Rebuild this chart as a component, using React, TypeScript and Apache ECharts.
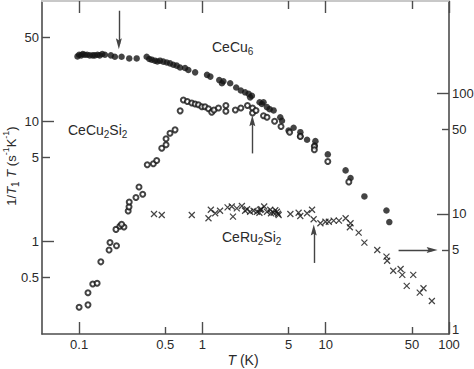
import React, { useEffect, useRef } from 'react';
import * as echarts from 'echarts';

// ---------- data ----------
const ceCu6T = [0.097, 0.1, 0.104, 0.107, 0.111, 0.116, 0.122, 0.129, 0.134, 0.141, 0.147, 0.154, 0.162, 0.181, 0.195, 0.221, 0.255, 0.293, 0.353, 0.371, 0.388, 0.412, 0.431, 0.453, 0.482, 0.514, 0.546, 0.581, 0.619, 0.659, 0.723, 0.769, 0.873, 1.09, 1.16, 1.37, 1.44, 1.48, 1.68, 1.88, 2.05, 2.22, 2.37, 2.44, 2.52, 2.91, 3.04, 3.13, 3.34, 3.51, 3.78, 4.28, 4.42, 5.0, 5.49, 6.23, 6.23, 7.06, 8.25, 8.14, 10.4, 14.5, 15.9, 20.6, 31.1, 32.8];
const ceCu6Rate = [34.6, 35.7, 35.3, 36.2, 35.7, 35.7, 35.3, 35.3, 35.3, 35.7, 35.3, 36.2, 35.7, 35.3, 34.4, 34.4, 33.3, 33.3, 34.4, 32.9, 32.5, 31.9, 31.4, 31.9, 31.3, 30.8, 30.3, 29.5, 29.0, 28.0, 27.7, 26.7, 25.5, 24.3, 23.5, 22.0, 20.7, 21.5, 20.7, 19.1, 18.0, 17.4, 16.9, 15.8, 16.3, 14.4, 13.9, 14.4, 13.1, 12.6, 12.3, 10.8, 10.1, 8.37, 8.82, 8.11, 7.51, 7.01, 6.83, 6.29, 5.3, 3.9, 3.37, 2.37, 1.81, 1.45];

const ceCu2Si2T = [0.1, 0.118, 0.118, 0.129, 0.14, 0.15, 0.175, 0.178, 0.201, 0.199, 0.214, 0.231, 0.221, 0.25, 0.254, 0.255, 0.289, 0.328, 0.306, 0.357, 0.4, 0.426, 0.468, 0.507, 0.507, 0.546, 0.6, 0.66, 0.701, 0.755, 0.82, 0.873, 0.928, 0.989, 1.05, 1.12, 1.19, 1.24, 1.35, 1.55, 1.55, 1.85, 2.05, 2.32, 2.55, 2.55, 2.72, 3.13, 3.34, 3.85, 4.34, 5.1, 6.22, 8.09, 8.09, 10.4, 15.4];
const ceCu2Si2Rate = [0.284, 0.297, 0.375, 0.443, 0.449, 0.677, 0.848, 0.981, 0.92, 1.26, 1.34, 1.32, 1.39, 1.79, 1.94, 2.13, 2.32, 2.47, 2.84, 4.35, 4.43, 4.72, 5.97, 6.37, 7.14, 7.95, 8.48, 12.2, 15.0, 14.6, 14.2, 13.9, 13.7, 13.2, 13.2, 12.7, 11.9, 12.4, 12.9, 13.5, 12.1, 12.4, 12.9, 13.5, 12.9, 11.7, 12.3, 11.1, 10.8, 10.0, 9.03, 8.11, 7.47, 6.17, 5.79, 4.63, 3.13];

const ceRu2Si2T = [0.405, 0.468, 0.82, 1.12, 1.17, 1.27, 1.39, 1.6, 1.73, 1.77, 1.9, 2.09, 2.22, 2.3, 2.44, 2.6, 2.77, 2.9, 2.94, 3.0, 3.17, 3.34, 3.55, 3.6, 3.78, 3.9, 4.02, 4.1, 4.15, 5.17, 6.03, 6.22, 7.06, 7.75, 7.98, 9.06, 9.95, 10.6, 11.6, 12.8, 14.5, 15.9, 15.7, 18.5, 20.6, 26.2, 31.1, 31.5, 35.3, 40.5, 41.8, 51.3, 45.4, 57.9, 62.1, 72.6];
const ceRu2Si2Rate = [9.96, 9.77, 9.77, 9.18, 10.8, 10.1, 10.6, 11.3, 11.5, 9.46, 11.1, 11.6, 10.6, 10.9, 10.4, 10.6, 10.4, 10.2, 10.8, 10.9, 11.5, 10.4, 10.8, 10.1, 10.2, 10.7, 10.4, 10.0, 9.77, 9.96, 10.2, 9.59, 10.1, 10.8, 9.0, 8.34, 8.59, 8.59, 8.76, 8.76, 9.18, 8.34, 7.72, 6.96, 5.75, 5.0, 4.4, 4.07, 3.36, 3.47, 3.1, 3.1, 2.51, 2.21, 2.4, 1.88];

// axis ranges and ticks
const xRange = [0.05, 100];
const leftRange = [0.17, 100];
const rightRange = [1, 588.6];
const xMajorTicks = [0.1, 1, 10, 100];
const xMinorTicks = [0.5, 5, 50];
const xTickLabels = [0.1, 0.5, 1, 5, 10, 50, 100];
const leftMajorTicks = [1, 10];
const leftMinorTicks = [0.5, 5, 50];
const leftTickLabels = [0.5, 1, 5, 10, 50];
const rightMajorTicks = [10, 100];
const rightMinorTicks = [5, 50];
const rightTickLabels = [1, 5, 10, 50, 100];

// arrows (data coordinates): [tail, head]
const arrowCeCu6 = [[0.21, 83], [0.21, 44]];
const arrowCeCu2Si2 = [[2.54, 5.4], [2.54, 10.1]];
const arrowCeRu2Si2 = [[8.0, 3.9], [8.0, 7.33]];
const arrowRightAxis = [[39, 5.0], [73, 5.0]];

const FONT = '"Liberation Sans", Arial, Helvetica, sans-serif';
const AXIS = '#4d4d4d';
const TEXT = '#2a2a2a';
const ARROW = '#444';

const lg = (v: number) => Math.log10(v);
const fmt = (v: number) => String(parseFloat(Math.pow(10, v).toPrecision(3)));
const zip = (a: number[], b: number[]) => a.map((v, i) => [v, b[i]]);

function tickAxis(position: string, range: number[], ticks: number[], length: number, opts: any = {}) {
  return {
    type: 'value',
    position,
    min: lg(range[0]),
    max: lg(range[1]),
    axisLine: { show: !!opts.line, onZero: false, lineStyle: { color: opts.lineColor || AXIS, width: opts.lineWidth || 1.6 } },
    axisTick: { show: true, inside: true, length, customValues: ticks.map(lg), lineStyle: { color: AXIS, width: 1.4 } },
    axisLabel: opts.labels
      ? {
          show: true,
          customValues: opts.labels.map(lg),
          formatter: opts.formatter || ((v: number) => fmt(v)),
          rich: opts.rich,
          color: TEXT,
          fontSize: 13,
          fontFamily: FONT,
          margin: opts.margin ?? 4,
        }
      : { show: false },
    splitLine: { show: false },
    silent: true,
  };
}

const richBase = {
  sub: { fontSize: 10, lineHeight: 10, verticalAlign: 'bottom', fontFamily: FONT, fill: TEXT },
  sup: { fontSize: 9, lineHeight: 9, verticalAlign: 'top', fontFamily: FONT, fill: TEXT },
  it: { fontStyle: 'italic', fontSize: 14, lineHeight: 19, fontFamily: FONT, fill: TEXT },
};

function label(text: string, x: number, y: number, extra: any = {}, size = 14) {
  return {
    type: 'text',
    x,
    y,
    silent: true,
    ...extra,
    style: {
      text,
      rich: { ...richBase, it: { ...richBase.it, fontSize: size } },
      fontSize: size,
      lineHeight: 19,
      fontFamily: FONT,
      fill: TEXT,
      align: extra.align || 'left',
      verticalAlign: 'middle',
    },
  };
}

const arrowLine = (pts: number[][]) => [
  { coord: pts[0], symbol: 'none' },
  { coord: pts[1], symbol: 'path://M5,0L10,18L5,15L0,18Z', symbolSize: [6, 11] },
];

export default function App() {
  const ref = useRef<HTMLDivElement>(null);
  useEffect(() => {
    if (!ref.current) return;
    const chart = echarts.init(ref.current, null, { renderer: 'svg' });
    const markLineBase = {
      silent: true,
      animation: false,
      symbol: ['none', 'arrow'],
      symbolSize: 10,
      label: { show: false },
      emphasis: { disabled: true },
      itemStyle: { color: ARROW },
      lineStyle: { color: ARROW, width: 1.4, type: 'solid' },
    };
    chart.setOption({
      animation: false,
      backgroundColor: '#fff',
      textStyle: { fontFamily: FONT },
      grid: { left: 42, right: 25, top: 1, bottom: 35, outerBoundsMode: 'none', containLabel: false },
      xAxis: [
        { type: 'log', min: xRange[0], max: xRange[1], show: false, logBase: 10 },
        tickAxis('bottom', xRange, xMajorTicks, 12, { line: true, labels: xTickLabels, margin: 4 }),
        tickAxis('bottom', xRange, xMinorTicks, 7),
        tickAxis('top', xRange, xMajorTicks, 12, { line: true, lineColor: '#c8c8c8', lineWidth: 2 }),
        tickAxis('top', xRange, xMinorTicks, 8),
      ],
      yAxis: [
        { type: 'log', min: leftRange[0], max: leftRange[1], show: false, logBase: 10 },
        tickAxis('left', leftRange, leftMajorTicks, 12, { line: true, labels: leftTickLabels, margin: 3 }),
        tickAxis('left', leftRange, leftMinorTicks, 8),
        { type: 'log', min: rightRange[0], max: rightRange[1], show: false, logBase: 10 },
        tickAxis('right', rightRange, rightMajorTicks, 12, {
          line: true,
          labels: rightTickLabels,
          margin: 3,
          formatter: (v: number) => (Math.abs(v) < 1e-9 ? '{low|' + fmt(v) + '}' : fmt(v)),
          rich: { low: { fontSize: 13, fontFamily: FONT, color: TEXT, padding: [0, 0, 10, 0] } },
        }),
        tickAxis('right', rightRange, rightMinorTicks, 7),
      ],
      series: [
        {
          type: 'scatter',
          name: 'CeCu6',
          xAxisIndex: 0,
          yAxisIndex: 0,
          data: zip(ceCu6T, ceCu6Rate),
          symbol: 'circle',
          symbolSize: 6.5,
          itemStyle: { color: '#151515' },
          markLine: { ...markLineBase, data: [arrowLine(arrowCeCu6)] },
        },
        {
          type: 'scatter',
          name: 'CeCu2Si2',
          xAxisIndex: 0,
          yAxisIndex: 0,
          data: zip(ceCu2Si2T, ceCu2Si2Rate),
          symbol: 'emptyCircle',
          symbolSize: 5,
          itemStyle: { color: '#151515', borderColor: '#151515', borderWidth: 1.1 },
          markLine: { ...markLineBase, data: [arrowLine(arrowCeCu2Si2)] },
        },
        {
          type: 'scatter',
          name: 'CeRu2Si2',
          xAxisIndex: 0,
          yAxisIndex: 3,
          data: zip(ceRu2Si2T, ceRu2Si2Rate),
          symbol: 'path://M0,0L10,10M10,0L0,10',
          symbolSize: 6,
          itemStyle: { color: 'transparent', borderColor: '#151515', borderWidth: 1.2 },
          markLine: { ...markLineBase, data: [arrowLine(arrowCeRu2Si2), arrowLine(arrowRightAxis)] },
        },
      ],
      graphic: [
        label('CeCu{sub|6}', 212, 47),
        label('CeCu{sub|2}Si{sub|2}', 68, 130),
        label('CeRu{sub|2}Si{sub|2}', 222, 237),
        label('{it|T} (K)', 243, 360, { align: 'center' }),
        label('1/{it|T}{sub|1} {it|T} (s{sup|-1}K{sup|-1})', 11, 166, { align: 'center', rotation: Math.PI / 2 }, 13),
      ],
    });
    return () => chart.dispose();
  }, []);
  return <div ref={ref} style={{ position: 'absolute', left: 0, top: 0, width: 474, height: 369 }} />;
}
